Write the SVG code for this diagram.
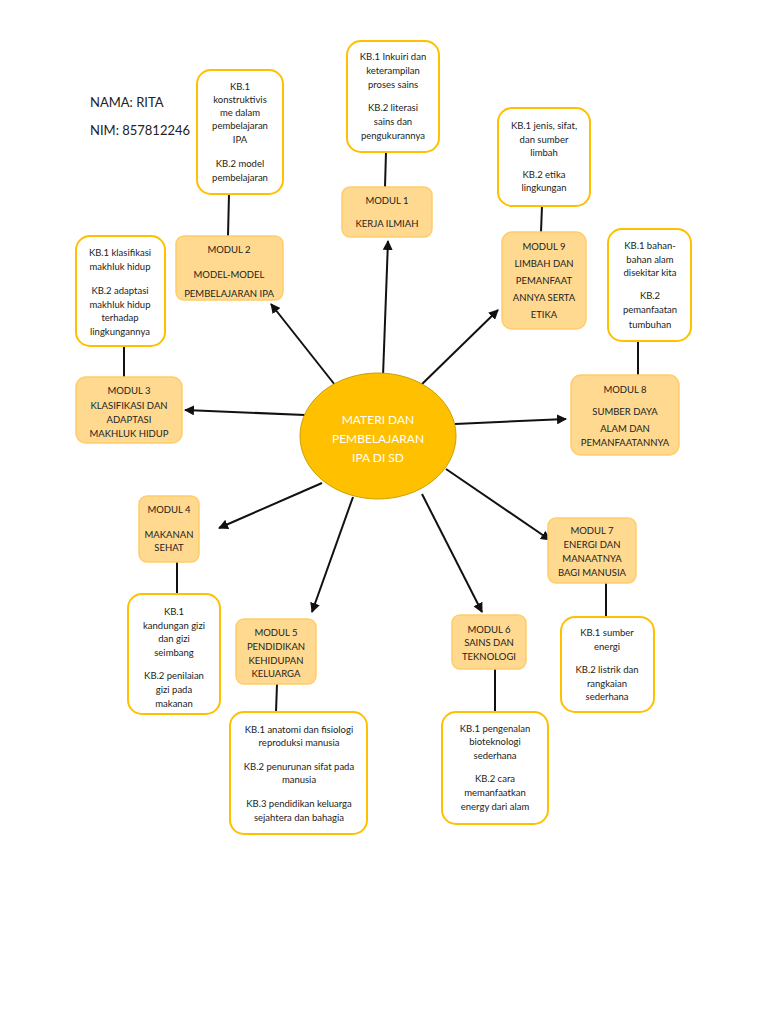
<svg xmlns="http://www.w3.org/2000/svg" width="768" height="1024" viewBox="0 0 768 1024">
<style>
text{font-family:Lato,"Open Sans","Liberation Sans",sans-serif;font-size:9.5px;fill:#222;text-anchor:middle}
.kb{fill:#fff;stroke:#FFC000;stroke-width:2}
.md{fill:#FFD98F;stroke:#FFCD6A;stroke-width:1.5}
.ln{stroke:#111;stroke-width:2;fill:none}
.ar{stroke:#111;stroke-width:2;fill:none;marker-end:url(#a)}
.nm{font-size:13px;text-anchor:start}
</style>
<defs>
<marker id="a" viewBox="0 0 10 10" refX="9" refY="5" markerWidth="5" markerHeight="5" orient="auto"><path d="M0,0L10,5L0,10z" fill="#111"/></marker>
<clipPath id="c2"><rect x="176" y="236" width="107" height="62"/></clipPath>
</defs>
<rect width="768" height="1024" fill="#fff"/>
<text class="nm" x="90" y="107">NAMA: RITA</text>
<text class="nm" x="90" y="135">NIM: 857812246</text>
<g id="connectors">
<path class="ar" d="M383,376L388,241"/>
<path class="ar" d="M335,385L271,304"/>
<path class="ar" d="M419,387L498,310"/>
<path class="ar" d="M305,415L185,410"/>
<path class="ar" d="M455,424L566,419"/>
<path class="ar" d="M322,483L219,528"/>
<path class="ar" d="M353,497L312,612"/>
<path class="ar" d="M446,469L550,540"/>
<path class="ar" d="M422,494L482,612"/>
<path class="ln" d="M386,152L385,187M229,194L228,236M542,206L541,232M638,341L638,375M124,346L124,377M177,562L177,594M277,684L276,712M495,669L495,712M606,583L606,617"/>
</g>
<g id="center"><ellipse cx="378" cy="436" rx="78" ry="63" fill="#FFC000" stroke="#C9A000" stroke-width="1"/>
<text x="378" y="424" style="fill:#fff;font-size:12px">MATERI DAN</text><text x="378" y="443" style="fill:#fff;font-size:12px">PEMBELAJARAN</text><text x="378" y="462" style="fill:#fff;font-size:12px">IPA DI SD</text></g>
<g id="m1"><rect class="md" x="342" y="187" width="90" height="50" rx="8"/><text x="387" y="204">MODUL 1</text><text x="387" y="227">KERJA ILMIAH</text></g>
<g id="kb1"><rect class="kb" x="347" y="41" width="92" height="111" rx="14"/><text x="393" y="60">KB.1 Inkuiri dan</text><text x="393" y="74">keterampilan</text><text x="393" y="88">proses sains</text><text x="393" y="111">KB.2 literasi</text><text x="393" y="125">sains dan</text><text x="393" y="139">pengukurannya</text></g>
<g id="m2"><rect class="md" x="176" y="236" width="107" height="64" rx="8"/><g clip-path="url(#c2)"><text x="229" y="253">MODUL 2</text><text x="229" y="278">MODEL-MODEL</text><text x="229" y="297">PEMBELAJARAN IPA</text></g></g>
<g id="kb2"><rect class="kb" x="197" y="70" width="86" height="124" rx="14"/><text x="240" y="90">KB.1</text><text x="240" y="103">konstruktivis</text><text x="240" y="116">me dalam</text><text x="240" y="129">pembelajaran</text><text x="240" y="143">IPA</text><text x="240" y="167">KB.2 model</text><text x="240" y="181">pembelajaran</text></g>
<g id="m9"><rect class="md" x="502" y="232" width="84" height="97" rx="10"/><text x="544" y="250">MODUL 9</text><text x="544" y="267">LIMBAH DAN</text><text x="544" y="284">PEMANFAAT</text><text x="544" y="301">ANNYA SERTA</text><text x="544" y="318">ETIKA</text><text x="544" y="318" dy="0" style="display:none"> </text><text x="544" y="335" dy="-17" style="display:none"> </text></g>
<g id="m9b"><text x="544" y="318" dy="0"> </text></g>
<g id="kb9"><rect class="kb" x="498" y="108" width="92" height="98" rx="14"/><text x="544" y="129">KB.1 jenis, sifat,</text><text x="544" y="143">dan sumber</text><text x="544" y="156">limbah</text><text x="544" y="178">KB.2 etika</text><text x="544" y="191">lingkungan</text></g>
<g id="kb8"><rect class="kb" x="608" y="229" width="83" height="112" rx="14"/><text x="650" y="249">KB.1 bahan-</text><text x="650" y="263">bahan alam</text><text x="650" y="276">disekitar kita</text><text x="650" y="299">KB.2</text><text x="650" y="313">pemanfaatan</text><text x="650" y="328">tumbuhan</text></g>
<g id="m8"><rect class="md" x="571" y="375" width="108" height="80" rx="10"/><text x="625" y="393">MODUL 8</text><text x="625" y="415">SUMBER DAYA</text><text x="625" y="432">ALAM DAN</text><text x="625" y="446">PEMANFAATANNYA</text></g>
<g id="m3"><rect class="md" x="76" y="377" width="106" height="66" rx="10"/><text x="129" y="394">MODUL 3</text><text x="129" y="409">KLASIFIKASI DAN</text><text x="129" y="423">ADAPTASI</text><text x="129" y="437">MAKHLUK HIDUP</text></g>
<g id="kb3"><rect class="kb" x="76" y="236" width="89" height="110" rx="14"/><text x="120" y="256">KB.1 klasifikasi</text><text x="120" y="270">makhluk hidup</text><text x="120" y="294">KB.2 adaptasi</text><text x="120" y="308">makhluk hidup</text><text x="120" y="321">terhadap</text><text x="120" y="335">lingkungannya</text></g>
<g id="m4"><rect class="md" x="139" y="496" width="60" height="66" rx="8"/><text x="169" y="513">MODUL 4</text><text x="169" y="538">MAKANAN</text><text x="169" y="551">SEHAT</text></g>
<g id="kb4"><rect class="kb" x="128" y="594" width="92" height="120" rx="14"/><text x="174" y="615">KB.1</text><text x="174" y="629">kandungan gizi</text><text x="174" y="642">dan gizi</text><text x="174" y="656">seimbang</text><text x="174" y="679">KB.2 penilaian</text><text x="174" y="693">gizi pada</text><text x="174" y="707">makanan</text></g>
<g id="m5"><rect class="md" x="236" y="619" width="80" height="65" rx="8"/><text x="276" y="636">MODUL 5</text><text x="276" y="650">PENDIDIKAN</text><text x="276" y="664">KEHIDUPAN</text><text x="276" y="677">KELUARGA</text></g>
<g id="kb5"><rect class="kb" x="230" y="712" width="137" height="122" rx="14"/><text x="299" y="733">KB.1 anatomi dan fisiologi</text><text x="299" y="746">reproduksi manusia</text><text x="299" y="770">KB.2 penurunan sifat pada</text><text x="299" y="783">manusia</text><text x="299" y="807">KB.3 pendidikan keluarga</text><text x="299" y="821">sejahtera dan bahagia</text></g>
<g id="m6"><rect class="md" x="452" y="615" width="74" height="54" rx="8"/><text x="489" y="633">MODUL 6</text><text x="489" y="646">SAINS DAN</text><text x="489" y="660">TEKNOLOGI</text></g>
<g id="kb6"><rect class="kb" x="442" y="712" width="106" height="112" rx="14"/><text x="495" y="732">KB.1 pengenalan</text><text x="495" y="745">bioteknologi</text><text x="495" y="759">sederhana</text><text x="495" y="782">KB.2 cara</text><text x="495" y="796">memanfaatkan</text><text x="495" y="810">energy dari alam</text></g>
<g id="m7"><rect class="md" x="548" y="518" width="88" height="65" rx="8"/><text x="592" y="534">MODUL 7</text><text x="592" y="548">ENERGI DAN</text><text x="592" y="562">MANAATNYA</text><text x="592" y="576">BAGI MANUSIA</text></g>
<g id="kb7"><rect class="kb" x="561" y="617" width="93" height="95" rx="14"/><text x="607" y="636">KB.1 sumber</text><text x="607" y="650">energi</text><text x="607" y="673">KB.2 listrik dan</text><text x="607" y="687">rangkaian</text><text x="607" y="700">sederhana</text></g>
</svg>
